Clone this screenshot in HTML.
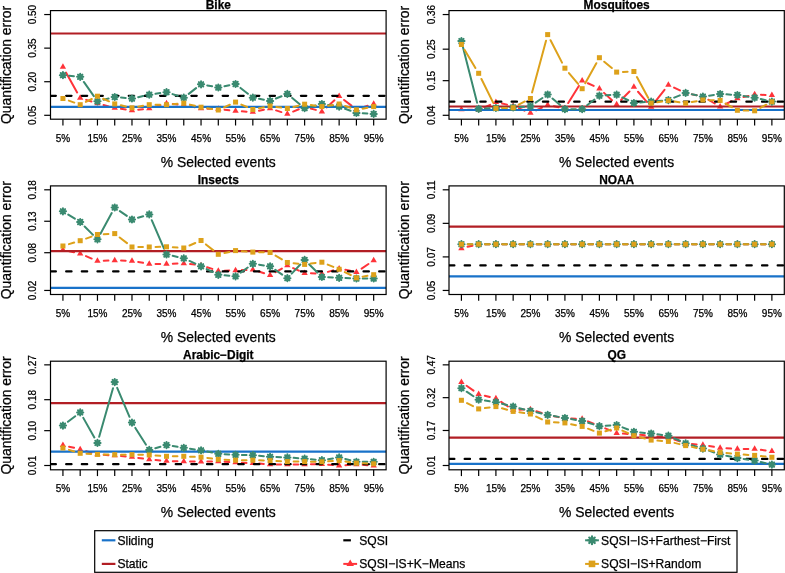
<!DOCTYPE html>
<html><head><meta charset="utf-8"><style>
html,body{margin:0;padding:0;background:#fff;}
body{width:785px;height:573px;overflow:hidden;}
svg{display:block;will-change:transform;}
text{font-family:"Liberation Sans",sans-serif;fill:#000;stroke:#000;stroke-width:0.25px;}
.t{font-size:10px;}
.m{font-size:11.9px;font-weight:bold;}
.l{font-size:13.9px;}
.g{font-size:12.1px;}
</style></head><body>
<svg width="785" height="573" viewBox="0 0 785 573">
<rect width="785" height="573" fill="#fff"/>
<clipPath id="c00"><rect x="50.5" y="10.6" width="335.6" height="108.6"/></clipPath>
<g clip-path="url(#c00)">
<path d="M66 72.5L77.12 92.4M86.19 99.84L91.46 101.56M103.55 105.09L108.62 106.41M120.96 108.83L125.74 109.47M138.25 109.65L142.98 109.15M155.3 106.75L160.46 105.25M172.79 104.05L177.5 104.45M189.95 106.25L194.86 107.25M207.33 108.68L212 108.82M224.56 109.73L229.31 110.27M241.85 111.36L246.54 111.64M259 110.75L263.92 109.75M276.09 110.41L281.35 112.09M293.17 111.57L298.8 109.23M310.69 108.49L315.81 109.91M326.57 107.39L334.46 100.31M344.12 99.96L351.43 105.64M362.39 107.52L367.69 105.78" stroke="#FF3339" stroke-width="2.0" fill="none" stroke-linecap="round"/>
<path d="M62.93 63.35L66.09 68.83L59.76 68.83Z" fill="#FF3339"/>
<path d="M80.19 94.25L83.36 99.73L77.03 99.73Z" fill="#FF3339"/>
<path d="M97.46 99.85L100.62 105.33L94.29 105.33Z" fill="#FF3339"/>
<path d="M114.72 104.35L117.88 109.83L111.55 109.83Z" fill="#FF3339"/>
<path d="M131.98 106.65L135.15 112.13L128.82 112.13Z" fill="#FF3339"/>
<path d="M149.25 104.85L152.41 110.33L146.08 110.33Z" fill="#FF3339"/>
<path d="M166.51 99.85L169.67 105.33L163.34 105.33Z" fill="#FF3339"/>
<path d="M183.77 101.35L186.94 106.83L180.61 106.83Z" fill="#FF3339"/>
<path d="M201.04 104.85L204.2 110.33L197.87 110.33Z" fill="#FF3339"/>
<path d="M218.3 105.35L221.46 110.83L215.14 110.83Z" fill="#FF3339"/>
<path d="M235.56 107.35L238.73 112.83L232.4 112.83Z" fill="#FF3339"/>
<path d="M252.83 108.35L255.99 113.83L249.66 113.83Z" fill="#FF3339"/>
<path d="M270.09 104.85L273.26 110.33L266.93 110.33Z" fill="#FF3339"/>
<path d="M287.35 110.35L290.52 115.83L284.19 115.83Z" fill="#FF3339"/>
<path d="M304.62 103.15L307.78 108.63L301.45 108.63Z" fill="#FF3339"/>
<path d="M321.88 107.95L325.05 113.43L318.72 113.43Z" fill="#FF3339"/>
<path d="M339.14 92.45L342.31 97.93L335.98 97.93Z" fill="#FF3339"/>
<path d="M356.41 105.85L359.57 111.33L353.24 111.33Z" fill="#FF3339"/>
<path d="M373.67 100.15L376.84 105.63L370.51 105.63Z" fill="#FF3339"/>
<path d="M50.5 106.9H386.1" stroke="#1872C9" stroke-width="2.2"/>
<path d="M50.5 33.5H386.1" stroke="#B21E24" stroke-width="2.2"/>
<path d="M50.5 95.8H386.1" stroke="#000" stroke-width="2.2" stroke-dasharray="5.4 10.25" stroke-linecap="round"/>
<path d="M69.2 75.78L73.92 76.22M83.82 81.95L93.83 96.15M103.57 99.78L108.61 98.52M121 97.55L125.71 97.95M138.14 97.15L143.09 96.05M155.48 93.8L160.27 93.1M172.51 94.11L177.77 95.79M188.75 93.84L196.06 88.16M207.23 85.45L212.11 86.35M224.47 86.25L229.39 85.25M240.5 87.92L247.89 93.78M259.02 98.85L263.9 99.75M275.93 98.53L281.52 96.27M292.21 97.92L299.77 104.18M310.74 106.71L315.76 105.49M328.11 104.94L332.91 105.66M345.05 108.79L350.5 110.81M362.7 113.33L367.38 113.57" stroke="#3A8A70" stroke-width="2.0" fill="none" stroke-linecap="round"/>
<path d="M59.82 75.2H66.04M62.93 72.09V78.31M60.73 73L65.13 77.4M60.73 77.4L65.13 73" stroke="#3A8A70" stroke-width="2.0" fill="none" stroke-linecap="round"/>
<path d="M77.08 76.8H83.3M80.19 73.69V79.91M77.99 74.6L82.39 79M77.99 79L82.39 74.6" stroke="#3A8A70" stroke-width="2.0" fill="none" stroke-linecap="round"/>
<path d="M94.35 101.3H100.57M97.46 98.19V104.41M95.26 99.1L99.66 103.5M95.26 103.5L99.66 99.1" stroke="#3A8A70" stroke-width="2.0" fill="none" stroke-linecap="round"/>
<path d="M111.61 97H117.83M114.72 93.89V100.11M112.52 94.8L116.92 99.2M112.52 99.2L116.92 94.8" stroke="#3A8A70" stroke-width="2.0" fill="none" stroke-linecap="round"/>
<path d="M128.87 98.5H135.09M131.98 95.39V101.61M129.78 96.3L134.18 100.7M129.78 100.7L134.18 96.3" stroke="#3A8A70" stroke-width="2.0" fill="none" stroke-linecap="round"/>
<path d="M146.14 94.7H152.36M149.25 91.59V97.81M147.05 92.5L151.45 96.9M147.05 96.9L151.45 92.5" stroke="#3A8A70" stroke-width="2.0" fill="none" stroke-linecap="round"/>
<path d="M163.4 92.2H169.62M166.51 89.09V95.31M164.31 90L168.71 94.4M164.31 94.4L168.71 90" stroke="#3A8A70" stroke-width="2.0" fill="none" stroke-linecap="round"/>
<path d="M180.66 97.7H186.88M183.77 94.59V100.81M181.57 95.5L185.97 99.9M181.57 99.9L185.97 95.5" stroke="#3A8A70" stroke-width="2.0" fill="none" stroke-linecap="round"/>
<path d="M197.93 84.3H204.15M201.04 81.19V87.41M198.84 82.1L203.24 86.5M198.84 86.5L203.24 82.1" stroke="#3A8A70" stroke-width="2.0" fill="none" stroke-linecap="round"/>
<path d="M215.19 87.5H221.41M218.3 84.39V90.61M216.1 85.3L220.5 89.7M216.1 89.7L220.5 85.3" stroke="#3A8A70" stroke-width="2.0" fill="none" stroke-linecap="round"/>
<path d="M232.45 84H238.67M235.56 80.89V87.11M233.36 81.8L237.76 86.2M233.36 86.2L237.76 81.8" stroke="#3A8A70" stroke-width="2.0" fill="none" stroke-linecap="round"/>
<path d="M249.72 97.7H255.94M252.83 94.59V100.81M250.63 95.5L255.03 99.9M250.63 99.9L255.03 95.5" stroke="#3A8A70" stroke-width="2.0" fill="none" stroke-linecap="round"/>
<path d="M266.98 100.9H273.2M270.09 97.79V104.01M267.89 98.7L272.29 103.1M267.89 103.1L272.29 98.7" stroke="#3A8A70" stroke-width="2.0" fill="none" stroke-linecap="round"/>
<path d="M284.24 93.9H290.46M287.35 90.79V97.01M285.15 91.7L289.55 96.1M285.15 96.1L289.55 91.7" stroke="#3A8A70" stroke-width="2.0" fill="none" stroke-linecap="round"/>
<path d="M301.51 108.2H307.73M304.62 105.09V111.31M302.42 106L306.82 110.4M302.42 110.4L306.82 106" stroke="#3A8A70" stroke-width="2.0" fill="none" stroke-linecap="round"/>
<path d="M318.77 104H324.99M321.88 100.89V107.11M319.68 101.8L324.08 106.2M319.68 106.2L324.08 101.8" stroke="#3A8A70" stroke-width="2.0" fill="none" stroke-linecap="round"/>
<path d="M336.03 106.6H342.25M339.14 103.49V109.71M336.94 104.4L341.34 108.8M336.94 108.8L341.34 104.4" stroke="#3A8A70" stroke-width="2.0" fill="none" stroke-linecap="round"/>
<path d="M353.3 113H359.52M356.41 109.89V116.11M354.21 110.8L358.61 115.2M354.21 115.2L358.61 110.8" stroke="#3A8A70" stroke-width="2.0" fill="none" stroke-linecap="round"/>
<path d="M370.56 113.9H376.78M373.67 110.79V117.01M371.47 111.7L375.87 116.1M371.47 116.1L375.87 111.7" stroke="#3A8A70" stroke-width="2.0" fill="none" stroke-linecap="round"/>
<path d="M68.86 100.63L74.26 102.57M85.85 101.92L91.8 98.98M103.21 98.77L108.97 101.33M120.86 105.29L125.84 106.41M138.18 106.69L143.05 105.81M155.55 104.7L160.21 104.7M172.79 104.15L177.5 103.75M189.91 104.62L194.9 105.78M207.26 108.21L212.08 108.99M224.03 107.38L229.83 104.72M241.35 104.58L247.04 107.02M259 108.25L263.92 107.25M276.33 106.9L281.12 107.6M293.47 106.98L298.5 105.72M310.86 105.07L315.64 105.73M328.11 105.66L332.91 104.94M345.12 106.01L350.44 107.79M362.6 108.65L367.48 107.75" stroke="#DDA11A" stroke-width="2.0" fill="none" stroke-linecap="round"/>
<rect x="60.42" y="95.99" width="5.02" height="5.02" fill="#DDA11A"/>
<rect x="77.69" y="102.19" width="5.02" height="5.02" fill="#DDA11A"/>
<rect x="94.95" y="93.69" width="5.02" height="5.02" fill="#DDA11A"/>
<rect x="112.21" y="101.39" width="5.02" height="5.02" fill="#DDA11A"/>
<rect x="129.48" y="105.29" width="5.02" height="5.02" fill="#DDA11A"/>
<rect x="146.74" y="102.19" width="5.02" height="5.02" fill="#DDA11A"/>
<rect x="164" y="102.19" width="5.02" height="5.02" fill="#DDA11A"/>
<rect x="181.27" y="100.69" width="5.02" height="5.02" fill="#DDA11A"/>
<rect x="198.53" y="104.69" width="5.02" height="5.02" fill="#DDA11A"/>
<rect x="215.79" y="107.49" width="5.02" height="5.02" fill="#DDA11A"/>
<rect x="233.06" y="99.59" width="5.02" height="5.02" fill="#DDA11A"/>
<rect x="250.32" y="106.99" width="5.02" height="5.02" fill="#DDA11A"/>
<rect x="267.58" y="103.49" width="5.02" height="5.02" fill="#DDA11A"/>
<rect x="284.85" y="105.99" width="5.02" height="5.02" fill="#DDA11A"/>
<rect x="302.11" y="101.69" width="5.02" height="5.02" fill="#DDA11A"/>
<rect x="319.37" y="104.09" width="5.02" height="5.02" fill="#DDA11A"/>
<rect x="336.64" y="101.49" width="5.02" height="5.02" fill="#DDA11A"/>
<rect x="353.9" y="107.29" width="5.02" height="5.02" fill="#DDA11A"/>
<rect x="371.16" y="104.09" width="5.02" height="5.02" fill="#DDA11A"/>
</g>
<rect x="50.5" y="10.6" width="335.6" height="108.6" fill="none" stroke="#000" stroke-width="1.2"/>
<path d="M44.2 115.3H50.5" stroke="#000" stroke-width="1.2"/>
<text transform="translate(36 115.3) rotate(-90)" text-anchor="middle" class="t">0.05</text>
<path d="M44.2 81.72H50.5" stroke="#000" stroke-width="1.2"/>
<text transform="translate(36 81.72) rotate(-90)" text-anchor="middle" class="t">0.20</text>
<path d="M44.2 48.13H50.5" stroke="#000" stroke-width="1.2"/>
<text transform="translate(36 48.13) rotate(-90)" text-anchor="middle" class="t">0.35</text>
<path d="M44.2 14.55H50.5" stroke="#000" stroke-width="1.2"/>
<text transform="translate(36 14.55) rotate(-90)" text-anchor="middle" class="t">0.50</text>
<path d="M62.93 119.2V125.5" stroke="#000" stroke-width="1.2"/>
<text x="62.93" y="141.8" text-anchor="middle" class="t">5%</text>
<path d="M80.19 119.2V125.5" stroke="#000" stroke-width="1.2"/>
<path d="M97.46 119.2V125.5" stroke="#000" stroke-width="1.2"/>
<text x="97.46" y="141.8" text-anchor="middle" class="t">15%</text>
<path d="M114.72 119.2V125.5" stroke="#000" stroke-width="1.2"/>
<path d="M131.98 119.2V125.5" stroke="#000" stroke-width="1.2"/>
<text x="131.98" y="141.8" text-anchor="middle" class="t">25%</text>
<path d="M149.25 119.2V125.5" stroke="#000" stroke-width="1.2"/>
<path d="M166.51 119.2V125.5" stroke="#000" stroke-width="1.2"/>
<text x="166.51" y="141.8" text-anchor="middle" class="t">35%</text>
<path d="M183.77 119.2V125.5" stroke="#000" stroke-width="1.2"/>
<path d="M201.04 119.2V125.5" stroke="#000" stroke-width="1.2"/>
<text x="201.04" y="141.8" text-anchor="middle" class="t">45%</text>
<path d="M218.3 119.2V125.5" stroke="#000" stroke-width="1.2"/>
<path d="M235.56 119.2V125.5" stroke="#000" stroke-width="1.2"/>
<text x="235.56" y="141.8" text-anchor="middle" class="t">55%</text>
<path d="M252.83 119.2V125.5" stroke="#000" stroke-width="1.2"/>
<path d="M270.09 119.2V125.5" stroke="#000" stroke-width="1.2"/>
<text x="270.09" y="141.8" text-anchor="middle" class="t">65%</text>
<path d="M287.35 119.2V125.5" stroke="#000" stroke-width="1.2"/>
<path d="M304.62 119.2V125.5" stroke="#000" stroke-width="1.2"/>
<text x="304.62" y="141.8" text-anchor="middle" class="t">75%</text>
<path d="M321.88 119.2V125.5" stroke="#000" stroke-width="1.2"/>
<path d="M339.14 119.2V125.5" stroke="#000" stroke-width="1.2"/>
<text x="339.14" y="141.8" text-anchor="middle" class="t">85%</text>
<path d="M356.41 119.2V125.5" stroke="#000" stroke-width="1.2"/>
<path d="M373.67 119.2V125.5" stroke="#000" stroke-width="1.2"/>
<text x="373.67" y="141.8" text-anchor="middle" class="t">95%</text>
<text x="218.3" y="8.5" text-anchor="middle" class="m">Bike</text>
<text x="218.3" y="166.8" text-anchor="middle" class="l">% Selected events</text>
<text transform="translate(10.7 64.9) rotate(-90)" text-anchor="middle" class="l">Quantification error</text>
<clipPath id="c01"><rect x="449" y="10.6" width="335.3" height="108.6"/></clipPath>
<g clip-path="url(#c01)">
<path d="M467.72 109.68L472.37 109.82M484.41 107.4L490.17 104.8M502.07 103.56L507.01 104.64M519 108.37L524.57 110.63M536.13 110.35L541.94 107.65M553.84 106.22L558.73 107.18M568.23 103.05L578.83 85.95M587.87 83.25L593.69 85.95M604.03 92.87L612.02 100.23M621.07 100.01L629.48 91.49M638.04 91.75L647.01 102.05M655.04 101.85L664.5 89.85M674.07 87.63L679.96 90.47M691.83 94.38L696.7 95.32M708.31 99.71L714.71 103.49M725.83 103.99L731.7 101.21M743.52 97.08L748.5 95.92M760.93 94.76L765.59 94.94" stroke="#FF3339" stroke-width="2.0" fill="none" stroke-linecap="round"/>
<path d="M461.42 105.85L464.58 111.33L458.25 111.33Z" fill="#FF3339"/>
<path d="M478.67 106.35L481.83 111.83L475.5 111.83Z" fill="#FF3339"/>
<path d="M495.91 98.55L499.08 104.03L492.75 104.03Z" fill="#FF3339"/>
<path d="M513.16 102.35L516.33 107.83L510 107.83Z" fill="#FF3339"/>
<path d="M530.41 109.35L533.58 114.83L527.25 114.83Z" fill="#FF3339"/>
<path d="M547.66 101.35L550.82 106.83L544.49 106.83Z" fill="#FF3339"/>
<path d="M564.91 104.75L568.07 110.23L561.74 110.23Z" fill="#FF3339"/>
<path d="M582.15 76.95L585.32 82.43L578.99 82.43Z" fill="#FF3339"/>
<path d="M599.4 84.95L602.57 90.43L596.24 90.43Z" fill="#FF3339"/>
<path d="M616.65 100.85L619.81 106.33L613.49 106.33Z" fill="#FF3339"/>
<path d="M633.9 83.35L637.06 88.83L630.73 88.83Z" fill="#FF3339"/>
<path d="M651.15 103.15L654.31 108.63L647.98 108.63Z" fill="#FF3339"/>
<path d="M668.39 81.25L671.56 86.73L665.23 86.73Z" fill="#FF3339"/>
<path d="M685.64 89.55L688.81 95.03L682.48 95.03Z" fill="#FF3339"/>
<path d="M702.89 92.85L706.05 98.33L699.72 98.33Z" fill="#FF3339"/>
<path d="M720.14 103.05L723.3 108.53L716.97 108.53Z" fill="#FF3339"/>
<path d="M737.39 94.85L740.55 100.33L734.22 100.33Z" fill="#FF3339"/>
<path d="M754.63 90.85L757.8 96.33L751.47 96.33Z" fill="#FF3339"/>
<path d="M771.88 91.55L775.05 97.03L768.72 97.03Z" fill="#FF3339"/>
<path d="M449 110H784.3" stroke="#1872C9" stroke-width="2.2"/>
<path d="M449 106.5H784.3" stroke="#B21E24" stroke-width="2.2"/>
<path d="M449 101.7H784.3" stroke="#000" stroke-width="2.2" stroke-dasharray="5.4 10.25" stroke-linecap="round"/>
<path d="M462.97 47.2L477.11 102.7M484.96 108.51L489.62 108.29M502.21 107.82L506.86 107.68M519.44 107.03L524.13 106.67M535.62 102.66L542.44 98.04M552.45 98.59L560.11 105.11M571.21 109.2L575.85 109.2M587.12 105.32L594.44 99.58M605.69 95.34L610.36 95.06M622.33 97.43L628.22 100.27M640.18 102.49L644.87 102.11M657.42 101.05L662.12 100.65M674.21 97.67L679.83 95.33M691.8 94.22L696.73 95.28M709.12 95.66L713.91 94.94M726.43 94.36L731.1 94.64M743.61 95.97L748.41 96.73M760.78 99.09L765.74 100.21" stroke="#3A8A70" stroke-width="2.0" fill="none" stroke-linecap="round"/>
<path d="M458.31 41.1H464.53M461.42 37.99V44.21M459.22 38.9L463.62 43.3M459.22 43.3L463.62 38.9" stroke="#3A8A70" stroke-width="2.0" fill="none" stroke-linecap="round"/>
<path d="M475.56 108.8H481.78M478.67 105.69V111.91M476.47 106.6L480.87 111M476.47 111L480.87 106.6" stroke="#3A8A70" stroke-width="2.0" fill="none" stroke-linecap="round"/>
<path d="M492.8 108H499.03M495.91 104.89V111.11M493.71 105.8L498.11 110.2M493.71 110.2L498.11 105.8" stroke="#3A8A70" stroke-width="2.0" fill="none" stroke-linecap="round"/>
<path d="M510.05 107.5H516.27M513.16 104.39V110.61M510.96 105.3L515.36 109.7M510.96 109.7L515.36 105.3" stroke="#3A8A70" stroke-width="2.0" fill="none" stroke-linecap="round"/>
<path d="M527.3 106.2H533.52M530.41 103.09V109.31M528.21 104L532.61 108.4M528.21 108.4L532.61 104" stroke="#3A8A70" stroke-width="2.0" fill="none" stroke-linecap="round"/>
<path d="M544.55 94.5H550.77M547.66 91.39V97.61M545.46 92.3L549.86 96.7M545.46 96.7L549.86 92.3" stroke="#3A8A70" stroke-width="2.0" fill="none" stroke-linecap="round"/>
<path d="M561.79 109.2H568.02M564.91 106.09V112.31M562.71 107L567.11 111.4M562.71 111.4L567.11 107" stroke="#3A8A70" stroke-width="2.0" fill="none" stroke-linecap="round"/>
<path d="M579.04 109.2H585.27M582.15 106.09V112.31M579.95 107L584.35 111.4M579.95 111.4L584.35 107" stroke="#3A8A70" stroke-width="2.0" fill="none" stroke-linecap="round"/>
<path d="M596.29 95.7H602.51M599.4 92.59V98.81M597.2 93.5L601.6 97.9M597.2 97.9L601.6 93.5" stroke="#3A8A70" stroke-width="2.0" fill="none" stroke-linecap="round"/>
<path d="M613.54 94.7H619.76M616.65 91.59V97.81M614.45 92.5L618.85 96.9M614.45 96.9L618.85 92.5" stroke="#3A8A70" stroke-width="2.0" fill="none" stroke-linecap="round"/>
<path d="M630.79 103H637.01M633.9 99.89V106.11M631.7 100.8L636.1 105.2M631.7 105.2L636.1 100.8" stroke="#3A8A70" stroke-width="2.0" fill="none" stroke-linecap="round"/>
<path d="M648.03 101.6H654.26M651.15 98.49V104.71M648.95 99.4L653.35 103.8M648.95 103.8L653.35 99.4" stroke="#3A8A70" stroke-width="2.0" fill="none" stroke-linecap="round"/>
<path d="M665.28 100.1H671.51M668.39 96.99V103.21M666.19 97.9L670.59 102.3M666.19 102.3L670.59 97.9" stroke="#3A8A70" stroke-width="2.0" fill="none" stroke-linecap="round"/>
<path d="M682.53 92.9H688.75M685.64 89.79V96.01M683.44 90.7L687.84 95.1M683.44 95.1L687.84 90.7" stroke="#3A8A70" stroke-width="2.0" fill="none" stroke-linecap="round"/>
<path d="M699.78 96.6H706M702.89 93.49V99.71M700.69 94.4L705.09 98.8M700.69 98.8L705.09 94.4" stroke="#3A8A70" stroke-width="2.0" fill="none" stroke-linecap="round"/>
<path d="M717.03 94H723.25M720.14 90.89V97.11M717.94 91.8L722.34 96.2M717.94 96.2L722.34 91.8" stroke="#3A8A70" stroke-width="2.0" fill="none" stroke-linecap="round"/>
<path d="M734.27 95H740.5M737.39 91.89V98.11M735.19 92.8L739.59 97.2M735.19 97.2L739.59 92.8" stroke="#3A8A70" stroke-width="2.0" fill="none" stroke-linecap="round"/>
<path d="M751.52 97.7H757.74M754.63 94.59V100.81M752.43 95.5L756.83 99.9M752.43 99.9L756.83 95.5" stroke="#3A8A70" stroke-width="2.0" fill="none" stroke-linecap="round"/>
<path d="M768.77 101.6H774.99M771.88 98.49V104.71M769.68 99.4L774.08 103.8M769.68 103.8L774.08 99.4" stroke="#3A8A70" stroke-width="2.0" fill="none" stroke-linecap="round"/>
<path d="M464.66 49.9L475.43 67.9M481.45 78.95L493.13 102.65M502.21 108.08L506.87 107.92M518.72 104.74L524.85 101.46M532.05 92.42L546.02 40.68M550.54 40.2L562.03 62.6M568.96 73.02L578.1 83.88M585.22 83.19L596.34 63.21M604.24 61.74L611.81 68.06M622.95 71.88L627.6 71.72M636.91 77.03L648.13 97.67M657.38 102.26L662.16 101.54M674.62 101.54L679.41 102.26M691.84 102.05L696.7 101.15M709.19 100.15L713.84 100.25M725.6 103.54L731.92 107.16M743.68 110.48L748.34 110.62M760.22 107.89L766.3 104.71" stroke="#DDA11A" stroke-width="2.0" fill="none" stroke-linecap="round"/>
<rect x="458.91" y="41.99" width="5.02" height="5.02" fill="#DDA11A"/>
<rect x="476.16" y="70.79" width="5.02" height="5.02" fill="#DDA11A"/>
<rect x="493.41" y="105.79" width="5.02" height="5.02" fill="#DDA11A"/>
<rect x="510.65" y="105.19" width="5.02" height="5.02" fill="#DDA11A"/>
<rect x="527.9" y="95.99" width="5.02" height="5.02" fill="#DDA11A"/>
<rect x="545.15" y="32.09" width="5.02" height="5.02" fill="#DDA11A"/>
<rect x="562.4" y="65.69" width="5.02" height="5.02" fill="#DDA11A"/>
<rect x="579.65" y="86.19" width="5.02" height="5.02" fill="#DDA11A"/>
<rect x="596.89" y="55.19" width="5.02" height="5.02" fill="#DDA11A"/>
<rect x="614.14" y="69.59" width="5.02" height="5.02" fill="#DDA11A"/>
<rect x="631.39" y="68.99" width="5.02" height="5.02" fill="#DDA11A"/>
<rect x="648.64" y="100.69" width="5.02" height="5.02" fill="#DDA11A"/>
<rect x="665.89" y="98.09" width="5.02" height="5.02" fill="#DDA11A"/>
<rect x="683.13" y="100.69" width="5.02" height="5.02" fill="#DDA11A"/>
<rect x="700.38" y="97.49" width="5.02" height="5.02" fill="#DDA11A"/>
<rect x="717.63" y="97.89" width="5.02" height="5.02" fill="#DDA11A"/>
<rect x="734.88" y="107.79" width="5.02" height="5.02" fill="#DDA11A"/>
<rect x="752.13" y="108.29" width="5.02" height="5.02" fill="#DDA11A"/>
<rect x="769.37" y="99.29" width="5.02" height="5.02" fill="#DDA11A"/>
</g>
<rect x="449" y="10.6" width="335.3" height="108.6" fill="none" stroke="#000" stroke-width="1.2"/>
<path d="M442.7 115.3H449" stroke="#000" stroke-width="1.2"/>
<text transform="translate(434.5 115.3) rotate(-90)" text-anchor="middle" class="t">0.04</text>
<path d="M442.7 80.67H449" stroke="#000" stroke-width="1.2"/>
<text transform="translate(434.5 80.67) rotate(-90)" text-anchor="middle" class="t">0.15</text>
<path d="M442.7 49.18H449" stroke="#000" stroke-width="1.2"/>
<text transform="translate(434.5 49.18) rotate(-90)" text-anchor="middle" class="t">0.25</text>
<path d="M442.7 14.55H449" stroke="#000" stroke-width="1.2"/>
<text transform="translate(434.5 14.55) rotate(-90)" text-anchor="middle" class="t">0.36</text>
<path d="M461.42 119.2V125.5" stroke="#000" stroke-width="1.2"/>
<text x="461.42" y="141.8" text-anchor="middle" class="t">5%</text>
<path d="M478.67 119.2V125.5" stroke="#000" stroke-width="1.2"/>
<path d="M495.91 119.2V125.5" stroke="#000" stroke-width="1.2"/>
<text x="495.91" y="141.8" text-anchor="middle" class="t">15%</text>
<path d="M513.16 119.2V125.5" stroke="#000" stroke-width="1.2"/>
<path d="M530.41 119.2V125.5" stroke="#000" stroke-width="1.2"/>
<text x="530.41" y="141.8" text-anchor="middle" class="t">25%</text>
<path d="M547.66 119.2V125.5" stroke="#000" stroke-width="1.2"/>
<path d="M564.91 119.2V125.5" stroke="#000" stroke-width="1.2"/>
<text x="564.91" y="141.8" text-anchor="middle" class="t">35%</text>
<path d="M582.15 119.2V125.5" stroke="#000" stroke-width="1.2"/>
<path d="M599.4 119.2V125.5" stroke="#000" stroke-width="1.2"/>
<text x="599.4" y="141.8" text-anchor="middle" class="t">45%</text>
<path d="M616.65 119.2V125.5" stroke="#000" stroke-width="1.2"/>
<path d="M633.9 119.2V125.5" stroke="#000" stroke-width="1.2"/>
<text x="633.9" y="141.8" text-anchor="middle" class="t">55%</text>
<path d="M651.15 119.2V125.5" stroke="#000" stroke-width="1.2"/>
<path d="M668.39 119.2V125.5" stroke="#000" stroke-width="1.2"/>
<text x="668.39" y="141.8" text-anchor="middle" class="t">65%</text>
<path d="M685.64 119.2V125.5" stroke="#000" stroke-width="1.2"/>
<path d="M702.89 119.2V125.5" stroke="#000" stroke-width="1.2"/>
<text x="702.89" y="141.8" text-anchor="middle" class="t">75%</text>
<path d="M720.14 119.2V125.5" stroke="#000" stroke-width="1.2"/>
<path d="M737.39 119.2V125.5" stroke="#000" stroke-width="1.2"/>
<text x="737.39" y="141.8" text-anchor="middle" class="t">85%</text>
<path d="M754.63 119.2V125.5" stroke="#000" stroke-width="1.2"/>
<path d="M771.88 119.2V125.5" stroke="#000" stroke-width="1.2"/>
<text x="771.88" y="141.8" text-anchor="middle" class="t">95%</text>
<text x="616.65" y="8.5" text-anchor="middle" class="m">Mosquitoes</text>
<text x="616.65" y="166.8" text-anchor="middle" class="l">% Selected events</text>
<text transform="translate(409.2 64.9) rotate(-90)" text-anchor="middle" class="l">Quantification error</text>
<clipPath id="c10"><rect x="50.5" y="185.9" width="335.6" height="108.6"/></clipPath>
<g clip-path="url(#c10)">
<path d="M69.08 251.25L74.04 252.35M86 256.15L91.65 258.55M103.75 260.78L108.42 260.62M121.02 260.55L125.68 260.65M138.18 261.91L143.05 262.79M155.55 263.94L160.21 263.96M172.8 263.74L177.48 263.56M190.03 264.03L194.78 264.57M207.04 267.21L212.3 268.89M224.6 270.65L229.27 270.55M241.86 270.11L246.53 269.89M258.82 271.54L264.1 273.26M275.58 272.11L281.86 268.59M293.11 268.07L298.86 270.63M310.92 273.35L315.58 273.45M327.93 271.85L333.09 270.35M345.32 269.85L350.23 270.85M361.64 268.59L368.44 264.01" stroke="#FF3339" stroke-width="2.0" fill="none" stroke-linecap="round"/>
<path d="M62.93 246.25L66.09 251.73L59.76 251.73Z" fill="#FF3339"/>
<path d="M80.19 250.05L83.36 255.53L77.03 255.53Z" fill="#FF3339"/>
<path d="M97.46 257.35L100.62 262.83L94.29 262.83Z" fill="#FF3339"/>
<path d="M114.72 256.75L117.88 262.23L111.55 262.23Z" fill="#FF3339"/>
<path d="M131.98 257.15L135.15 262.63L128.82 262.63Z" fill="#FF3339"/>
<path d="M149.25 260.25L152.41 265.73L146.08 265.73Z" fill="#FF3339"/>
<path d="M166.51 260.35L169.67 265.83L163.34 265.83Z" fill="#FF3339"/>
<path d="M183.77 259.65L186.94 265.13L180.61 265.13Z" fill="#FF3339"/>
<path d="M201.04 261.65L204.2 267.13L197.87 267.13Z" fill="#FF3339"/>
<path d="M218.3 267.15L221.46 272.63L215.14 272.63Z" fill="#FF3339"/>
<path d="M235.56 266.75L238.73 272.23L232.4 272.23Z" fill="#FF3339"/>
<path d="M252.83 265.95L255.99 271.43L249.66 271.43Z" fill="#FF3339"/>
<path d="M270.09 271.55L273.26 277.03L266.93 277.03Z" fill="#FF3339"/>
<path d="M287.35 261.85L290.52 267.33L284.19 267.33Z" fill="#FF3339"/>
<path d="M304.62 269.55L307.78 275.03L301.45 275.03Z" fill="#FF3339"/>
<path d="M321.88 269.95L325.05 275.43L318.72 275.43Z" fill="#FF3339"/>
<path d="M339.14 264.95L342.31 270.43L335.98 270.43Z" fill="#FF3339"/>
<path d="M356.41 268.45L359.57 273.93L353.24 273.93Z" fill="#FF3339"/>
<path d="M373.67 256.85L376.84 262.33L370.51 262.33Z" fill="#FF3339"/>
<path d="M50.5 287.8H386.1" stroke="#1872C9" stroke-width="2.2"/>
<path d="M50.5 251.2H386.1" stroke="#B21E24" stroke-width="2.2"/>
<path d="M50.5 271.4H386.1" stroke="#000" stroke-width="2.2" stroke-dasharray="5.4 10.25" stroke-linecap="round"/>
<path d="M68.28 214.62L74.84 218.68M84.64 226.46L93.01 234.84M100.46 233.76L111.71 213.04M119.89 211.1L126.81 215.9M138.02 217.72L143.2 216.18M151.74 220.19L164.02 248.71M172.66 255.85L177.62 256.95M189.49 260.95L195.32 263.65M206.69 269.08L212.65 272.02M224.58 275.35L229.29 275.75M240.67 272.61L247.72 267.49M259.06 264.7L263.86 265.4M275.28 269.88L282.17 274.62M291.68 273.62L300.29 264.48M309.09 264.33L317.4 272.57M328.17 277.29L332.85 277.51M345.44 278.06L350.11 278.24M362.71 278.5L367.37 278.5" stroke="#3A8A70" stroke-width="2.0" fill="none" stroke-linecap="round"/>
<path d="M59.82 211.3H66.04M62.93 208.19V214.41M60.73 209.1L65.13 213.5M60.73 213.5L65.13 209.1" stroke="#3A8A70" stroke-width="2.0" fill="none" stroke-linecap="round"/>
<path d="M77.08 222H83.3M80.19 218.89V225.11M77.99 219.8L82.39 224.2M77.99 224.2L82.39 219.8" stroke="#3A8A70" stroke-width="2.0" fill="none" stroke-linecap="round"/>
<path d="M94.35 239.3H100.57M97.46 236.19V242.41M95.26 237.1L99.66 241.5M95.26 241.5L99.66 237.1" stroke="#3A8A70" stroke-width="2.0" fill="none" stroke-linecap="round"/>
<path d="M111.61 207.5H117.83M114.72 204.39V210.61M112.52 205.3L116.92 209.7M112.52 209.7L116.92 205.3" stroke="#3A8A70" stroke-width="2.0" fill="none" stroke-linecap="round"/>
<path d="M128.87 219.5H135.09M131.98 216.39V222.61M129.78 217.3L134.18 221.7M129.78 221.7L134.18 217.3" stroke="#3A8A70" stroke-width="2.0" fill="none" stroke-linecap="round"/>
<path d="M146.14 214.4H152.36M149.25 211.29V217.51M147.05 212.2L151.45 216.6M147.05 216.6L151.45 212.2" stroke="#3A8A70" stroke-width="2.0" fill="none" stroke-linecap="round"/>
<path d="M163.4 254.5H169.62M166.51 251.39V257.61M164.31 252.3L168.71 256.7M164.31 256.7L168.71 252.3" stroke="#3A8A70" stroke-width="2.0" fill="none" stroke-linecap="round"/>
<path d="M180.66 258.3H186.88M183.77 255.19V261.41M181.57 256.1L185.97 260.5M181.57 260.5L185.97 256.1" stroke="#3A8A70" stroke-width="2.0" fill="none" stroke-linecap="round"/>
<path d="M197.93 266.3H204.15M201.04 263.19V269.41M198.84 264.1L203.24 268.5M198.84 268.5L203.24 264.1" stroke="#3A8A70" stroke-width="2.0" fill="none" stroke-linecap="round"/>
<path d="M215.19 274.8H221.41M218.3 271.69V277.91M216.1 272.6L220.5 277M216.1 277L220.5 272.6" stroke="#3A8A70" stroke-width="2.0" fill="none" stroke-linecap="round"/>
<path d="M232.45 276.3H238.67M235.56 273.19V279.41M233.36 274.1L237.76 278.5M233.36 278.5L237.76 274.1" stroke="#3A8A70" stroke-width="2.0" fill="none" stroke-linecap="round"/>
<path d="M249.72 263.8H255.94M252.83 260.69V266.91M250.63 261.6L255.03 266M250.63 266L255.03 261.6" stroke="#3A8A70" stroke-width="2.0" fill="none" stroke-linecap="round"/>
<path d="M266.98 266.3H273.2M270.09 263.19V269.41M267.89 264.1L272.29 268.5M267.89 268.5L272.29 264.1" stroke="#3A8A70" stroke-width="2.0" fill="none" stroke-linecap="round"/>
<path d="M284.24 278.2H290.46M287.35 275.09V281.31M285.15 276L289.55 280.4M285.15 280.4L289.55 276" stroke="#3A8A70" stroke-width="2.0" fill="none" stroke-linecap="round"/>
<path d="M301.51 259.9H307.73M304.62 256.79V263.01M302.42 257.7L306.82 262.1M302.42 262.1L306.82 257.7" stroke="#3A8A70" stroke-width="2.0" fill="none" stroke-linecap="round"/>
<path d="M318.77 277H324.99M321.88 273.89V280.11M319.68 274.8L324.08 279.2M319.68 279.2L324.08 274.8" stroke="#3A8A70" stroke-width="2.0" fill="none" stroke-linecap="round"/>
<path d="M336.03 277.8H342.25M339.14 274.69V280.91M336.94 275.6L341.34 280M336.94 280L341.34 275.6" stroke="#3A8A70" stroke-width="2.0" fill="none" stroke-linecap="round"/>
<path d="M353.3 278.5H359.52M356.41 275.39V281.61M354.21 276.3L358.61 280.7M354.21 280.7L358.61 276.3" stroke="#3A8A70" stroke-width="2.0" fill="none" stroke-linecap="round"/>
<path d="M370.56 278.5H376.78M373.67 275.39V281.61M371.47 276.3L375.87 280.7M371.47 280.7L375.87 276.3" stroke="#3A8A70" stroke-width="2.0" fill="none" stroke-linecap="round"/>
<path d="M68.95 244.15L74.17 242.55M86.12 238.57L91.53 236.63M103.75 234.17L108.43 233.93M119.7 237.46L127.01 243.14M138.28 247L142.95 247M155.55 246.93L160.21 246.87M172.79 247.24L177.49 247.56M189.55 245.49L195.26 243.01M205.96 244.43L213.38 250.37M224.46 252.98L229.4 251.92M241.84 251.15L246.55 251.55M259.13 252.25L263.79 252.35M275.54 255.66L281.9 259.34M293.62 263.19L298.35 263.71M310.87 263.6L315.63 263M327.71 264.6L333.32 266.9M344.8 272.08L350.75 275.02M362.61 276.69L367.47 275.81" stroke="#DDA11A" stroke-width="2.0" fill="none" stroke-linecap="round"/>
<rect x="60.42" y="243.49" width="5.02" height="5.02" fill="#DDA11A"/>
<rect x="77.69" y="238.19" width="5.02" height="5.02" fill="#DDA11A"/>
<rect x="94.95" y="231.99" width="5.02" height="5.02" fill="#DDA11A"/>
<rect x="112.21" y="231.09" width="5.02" height="5.02" fill="#DDA11A"/>
<rect x="129.48" y="244.49" width="5.02" height="5.02" fill="#DDA11A"/>
<rect x="146.74" y="244.49" width="5.02" height="5.02" fill="#DDA11A"/>
<rect x="164" y="244.29" width="5.02" height="5.02" fill="#DDA11A"/>
<rect x="181.27" y="245.49" width="5.02" height="5.02" fill="#DDA11A"/>
<rect x="198.53" y="237.99" width="5.02" height="5.02" fill="#DDA11A"/>
<rect x="215.79" y="251.79" width="5.02" height="5.02" fill="#DDA11A"/>
<rect x="233.06" y="248.09" width="5.02" height="5.02" fill="#DDA11A"/>
<rect x="250.32" y="249.59" width="5.02" height="5.02" fill="#DDA11A"/>
<rect x="267.58" y="249.99" width="5.02" height="5.02" fill="#DDA11A"/>
<rect x="284.85" y="259.99" width="5.02" height="5.02" fill="#DDA11A"/>
<rect x="302.11" y="261.89" width="5.02" height="5.02" fill="#DDA11A"/>
<rect x="319.37" y="259.69" width="5.02" height="5.02" fill="#DDA11A"/>
<rect x="336.64" y="266.79" width="5.02" height="5.02" fill="#DDA11A"/>
<rect x="353.9" y="275.29" width="5.02" height="5.02" fill="#DDA11A"/>
<rect x="371.16" y="272.19" width="5.02" height="5.02" fill="#DDA11A"/>
</g>
<rect x="50.5" y="185.9" width="335.6" height="108.6" fill="none" stroke="#000" stroke-width="1.2"/>
<path d="M44.2 290.45H50.5" stroke="#000" stroke-width="1.2"/>
<text transform="translate(36 290.45) rotate(-90)" text-anchor="middle" class="t">0.02</text>
<path d="M44.2 252.71H50.5" stroke="#000" stroke-width="1.2"/>
<text transform="translate(36 252.71) rotate(-90)" text-anchor="middle" class="t">0.08</text>
<path d="M44.2 221.25H50.5" stroke="#000" stroke-width="1.2"/>
<text transform="translate(36 221.25) rotate(-90)" text-anchor="middle" class="t">0.13</text>
<path d="M44.2 189.8H50.5" stroke="#000" stroke-width="1.2"/>
<text transform="translate(36 189.8) rotate(-90)" text-anchor="middle" class="t">0.18</text>
<path d="M62.93 294.5V300.8" stroke="#000" stroke-width="1.2"/>
<text x="62.93" y="317.1" text-anchor="middle" class="t">5%</text>
<path d="M80.19 294.5V300.8" stroke="#000" stroke-width="1.2"/>
<path d="M97.46 294.5V300.8" stroke="#000" stroke-width="1.2"/>
<text x="97.46" y="317.1" text-anchor="middle" class="t">15%</text>
<path d="M114.72 294.5V300.8" stroke="#000" stroke-width="1.2"/>
<path d="M131.98 294.5V300.8" stroke="#000" stroke-width="1.2"/>
<text x="131.98" y="317.1" text-anchor="middle" class="t">25%</text>
<path d="M149.25 294.5V300.8" stroke="#000" stroke-width="1.2"/>
<path d="M166.51 294.5V300.8" stroke="#000" stroke-width="1.2"/>
<text x="166.51" y="317.1" text-anchor="middle" class="t">35%</text>
<path d="M183.77 294.5V300.8" stroke="#000" stroke-width="1.2"/>
<path d="M201.04 294.5V300.8" stroke="#000" stroke-width="1.2"/>
<text x="201.04" y="317.1" text-anchor="middle" class="t">45%</text>
<path d="M218.3 294.5V300.8" stroke="#000" stroke-width="1.2"/>
<path d="M235.56 294.5V300.8" stroke="#000" stroke-width="1.2"/>
<text x="235.56" y="317.1" text-anchor="middle" class="t">55%</text>
<path d="M252.83 294.5V300.8" stroke="#000" stroke-width="1.2"/>
<path d="M270.09 294.5V300.8" stroke="#000" stroke-width="1.2"/>
<text x="270.09" y="317.1" text-anchor="middle" class="t">65%</text>
<path d="M287.35 294.5V300.8" stroke="#000" stroke-width="1.2"/>
<path d="M304.62 294.5V300.8" stroke="#000" stroke-width="1.2"/>
<text x="304.62" y="317.1" text-anchor="middle" class="t">75%</text>
<path d="M321.88 294.5V300.8" stroke="#000" stroke-width="1.2"/>
<path d="M339.14 294.5V300.8" stroke="#000" stroke-width="1.2"/>
<text x="339.14" y="317.1" text-anchor="middle" class="t">85%</text>
<path d="M356.41 294.5V300.8" stroke="#000" stroke-width="1.2"/>
<path d="M373.67 294.5V300.8" stroke="#000" stroke-width="1.2"/>
<text x="373.67" y="317.1" text-anchor="middle" class="t">95%</text>
<text x="218.3" y="183.8" text-anchor="middle" class="m">Insects</text>
<text x="218.3" y="342.1" text-anchor="middle" class="l">% Selected events</text>
<text transform="translate(10.7 240.2) rotate(-90)" text-anchor="middle" class="l">Quantification error</text>
<clipPath id="c11"><rect x="449" y="185.9" width="335.3" height="108.6"/></clipPath>
<g clip-path="url(#c11)">
<path d="M467.55 246.84L472.54 245.66M484.97 244.2L489.61 244.2M502.21 244.2L506.86 244.2M519.46 244.2L524.11 244.2M536.71 244.2L541.36 244.2M553.96 244.2L558.61 244.2M571.21 244.2L575.85 244.2M588.45 244.2L593.1 244.2M605.7 244.2L610.35 244.2M622.95 244.2L627.6 244.2M640.2 244.2L644.85 244.2M657.45 244.2L662.09 244.2M674.69 244.2L679.34 244.2M691.94 244.2L696.59 244.2M709.19 244.2L713.84 244.2M726.44 244.2L731.09 244.2M743.69 244.2L748.33 244.2M760.93 244.2L765.58 244.2" stroke="#FF3339" stroke-width="2.0" fill="none" stroke-linecap="round"/>
<path d="M461.42 244.65L464.58 250.13L458.25 250.13Z" fill="#FF3339"/>
<path d="M478.67 240.55L481.83 246.03L475.5 246.03Z" fill="#FF3339"/>
<path d="M495.91 240.55L499.08 246.03L492.75 246.03Z" fill="#FF3339"/>
<path d="M513.16 240.55L516.33 246.03L510 246.03Z" fill="#FF3339"/>
<path d="M530.41 240.55L533.58 246.03L527.25 246.03Z" fill="#FF3339"/>
<path d="M547.66 240.55L550.82 246.03L544.49 246.03Z" fill="#FF3339"/>
<path d="M564.91 240.55L568.07 246.03L561.74 246.03Z" fill="#FF3339"/>
<path d="M582.15 240.55L585.32 246.03L578.99 246.03Z" fill="#FF3339"/>
<path d="M599.4 240.55L602.57 246.03L596.24 246.03Z" fill="#FF3339"/>
<path d="M616.65 240.55L619.81 246.03L613.49 246.03Z" fill="#FF3339"/>
<path d="M633.9 240.55L637.06 246.03L630.73 246.03Z" fill="#FF3339"/>
<path d="M651.15 240.55L654.31 246.03L647.98 246.03Z" fill="#FF3339"/>
<path d="M668.39 240.55L671.56 246.03L665.23 246.03Z" fill="#FF3339"/>
<path d="M685.64 240.55L688.81 246.03L682.48 246.03Z" fill="#FF3339"/>
<path d="M702.89 240.55L706.05 246.03L699.72 246.03Z" fill="#FF3339"/>
<path d="M720.14 240.55L723.3 246.03L716.97 246.03Z" fill="#FF3339"/>
<path d="M737.39 240.55L740.55 246.03L734.22 246.03Z" fill="#FF3339"/>
<path d="M754.63 240.55L757.8 246.03L751.47 246.03Z" fill="#FF3339"/>
<path d="M771.88 240.55L775.05 246.03L768.72 246.03Z" fill="#FF3339"/>
<path d="M449 276.3H784.3" stroke="#1872C9" stroke-width="2.2"/>
<path d="M449 226.7H784.3" stroke="#B21E24" stroke-width="2.2"/>
<path d="M449 265.4H784.3" stroke="#000" stroke-width="2.2" stroke-dasharray="5.4 10.25" stroke-linecap="round"/>
<path d="M467.72 244.2L472.37 244.2M484.97 244.2L489.61 244.2M502.21 244.2L506.86 244.2M519.46 244.2L524.11 244.2M536.71 244.2L541.36 244.2M553.96 244.2L558.61 244.2M571.21 244.2L575.85 244.2M588.45 244.2L593.1 244.2M605.7 244.2L610.35 244.2M622.95 244.2L627.6 244.2M640.2 244.2L644.85 244.2M657.45 244.2L662.09 244.2M674.69 244.2L679.34 244.2M691.94 244.2L696.59 244.2M709.19 244.2L713.84 244.2M726.44 244.2L731.09 244.2M743.69 244.2L748.33 244.2M760.93 244.2L765.58 244.2" stroke="#3A8A70" stroke-width="2.0" fill="none" stroke-linecap="round"/>
<path d="M458.31 244.2H464.53M461.42 241.09V247.31M459.22 242L463.62 246.4M459.22 246.4L463.62 242" stroke="#3A8A70" stroke-width="2.0" fill="none" stroke-linecap="round"/>
<path d="M475.56 244.2H481.78M478.67 241.09V247.31M476.47 242L480.87 246.4M476.47 246.4L480.87 242" stroke="#3A8A70" stroke-width="2.0" fill="none" stroke-linecap="round"/>
<path d="M492.8 244.2H499.03M495.91 241.09V247.31M493.71 242L498.11 246.4M493.71 246.4L498.11 242" stroke="#3A8A70" stroke-width="2.0" fill="none" stroke-linecap="round"/>
<path d="M510.05 244.2H516.27M513.16 241.09V247.31M510.96 242L515.36 246.4M510.96 246.4L515.36 242" stroke="#3A8A70" stroke-width="2.0" fill="none" stroke-linecap="round"/>
<path d="M527.3 244.2H533.52M530.41 241.09V247.31M528.21 242L532.61 246.4M528.21 246.4L532.61 242" stroke="#3A8A70" stroke-width="2.0" fill="none" stroke-linecap="round"/>
<path d="M544.55 244.2H550.77M547.66 241.09V247.31M545.46 242L549.86 246.4M545.46 246.4L549.86 242" stroke="#3A8A70" stroke-width="2.0" fill="none" stroke-linecap="round"/>
<path d="M561.79 244.2H568.02M564.91 241.09V247.31M562.71 242L567.11 246.4M562.71 246.4L567.11 242" stroke="#3A8A70" stroke-width="2.0" fill="none" stroke-linecap="round"/>
<path d="M579.04 244.2H585.27M582.15 241.09V247.31M579.95 242L584.35 246.4M579.95 246.4L584.35 242" stroke="#3A8A70" stroke-width="2.0" fill="none" stroke-linecap="round"/>
<path d="M596.29 244.2H602.51M599.4 241.09V247.31M597.2 242L601.6 246.4M597.2 246.4L601.6 242" stroke="#3A8A70" stroke-width="2.0" fill="none" stroke-linecap="round"/>
<path d="M613.54 244.2H619.76M616.65 241.09V247.31M614.45 242L618.85 246.4M614.45 246.4L618.85 242" stroke="#3A8A70" stroke-width="2.0" fill="none" stroke-linecap="round"/>
<path d="M630.79 244.2H637.01M633.9 241.09V247.31M631.7 242L636.1 246.4M631.7 246.4L636.1 242" stroke="#3A8A70" stroke-width="2.0" fill="none" stroke-linecap="round"/>
<path d="M648.03 244.2H654.26M651.15 241.09V247.31M648.95 242L653.35 246.4M648.95 246.4L653.35 242" stroke="#3A8A70" stroke-width="2.0" fill="none" stroke-linecap="round"/>
<path d="M665.28 244.2H671.51M668.39 241.09V247.31M666.19 242L670.59 246.4M666.19 246.4L670.59 242" stroke="#3A8A70" stroke-width="2.0" fill="none" stroke-linecap="round"/>
<path d="M682.53 244.2H688.75M685.64 241.09V247.31M683.44 242L687.84 246.4M683.44 246.4L687.84 242" stroke="#3A8A70" stroke-width="2.0" fill="none" stroke-linecap="round"/>
<path d="M699.78 244.2H706M702.89 241.09V247.31M700.69 242L705.09 246.4M700.69 246.4L705.09 242" stroke="#3A8A70" stroke-width="2.0" fill="none" stroke-linecap="round"/>
<path d="M717.03 244.2H723.25M720.14 241.09V247.31M717.94 242L722.34 246.4M717.94 246.4L722.34 242" stroke="#3A8A70" stroke-width="2.0" fill="none" stroke-linecap="round"/>
<path d="M734.27 244.2H740.5M737.39 241.09V247.31M735.19 242L739.59 246.4M735.19 246.4L739.59 242" stroke="#3A8A70" stroke-width="2.0" fill="none" stroke-linecap="round"/>
<path d="M751.52 244.2H757.74M754.63 241.09V247.31M752.43 242L756.83 246.4M752.43 246.4L756.83 242" stroke="#3A8A70" stroke-width="2.0" fill="none" stroke-linecap="round"/>
<path d="M768.77 244.2H774.99M771.88 241.09V247.31M769.68 242L774.08 246.4M769.68 246.4L774.08 242" stroke="#3A8A70" stroke-width="2.0" fill="none" stroke-linecap="round"/>
<path d="M467.72 244.2L472.37 244.2M484.97 244.2L489.61 244.2M502.21 244.2L506.86 244.2M519.46 244.2L524.11 244.2M536.71 244.2L541.36 244.2M553.96 244.2L558.61 244.2M571.21 244.2L575.85 244.2M588.45 244.2L593.1 244.2M605.7 244.2L610.35 244.2M622.95 244.2L627.6 244.2M640.2 244.2L644.85 244.2M657.45 244.2L662.09 244.2M674.69 244.2L679.34 244.2M691.94 244.2L696.59 244.2M709.19 244.2L713.84 244.2M726.44 244.2L731.09 244.2M743.69 244.2L748.33 244.2M760.93 244.2L765.58 244.2" stroke="#DDA11A" stroke-width="2.0" fill="none" stroke-linecap="round"/>
<rect x="458.91" y="241.69" width="5.02" height="5.02" fill="#DDA11A"/>
<rect x="476.16" y="241.69" width="5.02" height="5.02" fill="#DDA11A"/>
<rect x="493.41" y="241.69" width="5.02" height="5.02" fill="#DDA11A"/>
<rect x="510.65" y="241.69" width="5.02" height="5.02" fill="#DDA11A"/>
<rect x="527.9" y="241.69" width="5.02" height="5.02" fill="#DDA11A"/>
<rect x="545.15" y="241.69" width="5.02" height="5.02" fill="#DDA11A"/>
<rect x="562.4" y="241.69" width="5.02" height="5.02" fill="#DDA11A"/>
<rect x="579.65" y="241.69" width="5.02" height="5.02" fill="#DDA11A"/>
<rect x="596.89" y="241.69" width="5.02" height="5.02" fill="#DDA11A"/>
<rect x="614.14" y="241.69" width="5.02" height="5.02" fill="#DDA11A"/>
<rect x="631.39" y="241.69" width="5.02" height="5.02" fill="#DDA11A"/>
<rect x="648.64" y="241.69" width="5.02" height="5.02" fill="#DDA11A"/>
<rect x="665.89" y="241.69" width="5.02" height="5.02" fill="#DDA11A"/>
<rect x="683.13" y="241.69" width="5.02" height="5.02" fill="#DDA11A"/>
<rect x="700.38" y="241.69" width="5.02" height="5.02" fill="#DDA11A"/>
<rect x="717.63" y="241.69" width="5.02" height="5.02" fill="#DDA11A"/>
<rect x="734.88" y="241.69" width="5.02" height="5.02" fill="#DDA11A"/>
<rect x="752.13" y="241.69" width="5.02" height="5.02" fill="#DDA11A"/>
<rect x="769.37" y="241.69" width="5.02" height="5.02" fill="#DDA11A"/>
</g>
<rect x="449" y="185.9" width="335.3" height="108.6" fill="none" stroke="#000" stroke-width="1.2"/>
<path d="M442.7 290.45H449" stroke="#000" stroke-width="1.2"/>
<text transform="translate(434.5 290.45) rotate(-90)" text-anchor="middle" class="t">0.05</text>
<path d="M442.7 256.9H449" stroke="#000" stroke-width="1.2"/>
<text transform="translate(434.5 256.9) rotate(-90)" text-anchor="middle" class="t">0.07</text>
<path d="M442.7 223.35H449" stroke="#000" stroke-width="1.2"/>
<text transform="translate(434.5 223.35) rotate(-90)" text-anchor="middle" class="t">0.09</text>
<path d="M442.7 189.8H449" stroke="#000" stroke-width="1.2"/>
<text transform="translate(434.5 189.8) rotate(-90)" text-anchor="middle" class="t">0.11</text>
<path d="M461.42 294.5V300.8" stroke="#000" stroke-width="1.2"/>
<text x="461.42" y="317.1" text-anchor="middle" class="t">5%</text>
<path d="M478.67 294.5V300.8" stroke="#000" stroke-width="1.2"/>
<path d="M495.91 294.5V300.8" stroke="#000" stroke-width="1.2"/>
<text x="495.91" y="317.1" text-anchor="middle" class="t">15%</text>
<path d="M513.16 294.5V300.8" stroke="#000" stroke-width="1.2"/>
<path d="M530.41 294.5V300.8" stroke="#000" stroke-width="1.2"/>
<text x="530.41" y="317.1" text-anchor="middle" class="t">25%</text>
<path d="M547.66 294.5V300.8" stroke="#000" stroke-width="1.2"/>
<path d="M564.91 294.5V300.8" stroke="#000" stroke-width="1.2"/>
<text x="564.91" y="317.1" text-anchor="middle" class="t">35%</text>
<path d="M582.15 294.5V300.8" stroke="#000" stroke-width="1.2"/>
<path d="M599.4 294.5V300.8" stroke="#000" stroke-width="1.2"/>
<text x="599.4" y="317.1" text-anchor="middle" class="t">45%</text>
<path d="M616.65 294.5V300.8" stroke="#000" stroke-width="1.2"/>
<path d="M633.9 294.5V300.8" stroke="#000" stroke-width="1.2"/>
<text x="633.9" y="317.1" text-anchor="middle" class="t">55%</text>
<path d="M651.15 294.5V300.8" stroke="#000" stroke-width="1.2"/>
<path d="M668.39 294.5V300.8" stroke="#000" stroke-width="1.2"/>
<text x="668.39" y="317.1" text-anchor="middle" class="t">65%</text>
<path d="M685.64 294.5V300.8" stroke="#000" stroke-width="1.2"/>
<path d="M702.89 294.5V300.8" stroke="#000" stroke-width="1.2"/>
<text x="702.89" y="317.1" text-anchor="middle" class="t">75%</text>
<path d="M720.14 294.5V300.8" stroke="#000" stroke-width="1.2"/>
<path d="M737.39 294.5V300.8" stroke="#000" stroke-width="1.2"/>
<text x="737.39" y="317.1" text-anchor="middle" class="t">85%</text>
<path d="M754.63 294.5V300.8" stroke="#000" stroke-width="1.2"/>
<path d="M771.88 294.5V300.8" stroke="#000" stroke-width="1.2"/>
<text x="771.88" y="317.1" text-anchor="middle" class="t">95%</text>
<text x="616.65" y="183.8" text-anchor="middle" class="m">NOAA</text>
<text x="616.65" y="342.1" text-anchor="middle" class="l">% Selected events</text>
<text transform="translate(409.2 240.2) rotate(-90)" text-anchor="middle" class="l">Quantification error</text>
<clipPath id="c20"><rect x="50.5" y="361.2" width="335.6" height="108.6"/></clipPath>
<g clip-path="url(#c20)">
<path d="M69.06 446.66L74.06 447.84M86.23 451.12L91.42 452.68M103.75 454.86L108.43 455.14M121 456.05L125.71 456.45M138.22 457.9L143.01 458.6M155.52 460.05L160.23 460.45M172.81 461.15L177.47 461.25M190.07 461.51L194.74 461.59M207.33 461.55L212 461.45M224.58 461.74L229.28 462.06M241.86 462.72L246.53 462.88M259.11 463.57L263.81 463.93M276.39 464.4L281.05 464.4M293.65 464.4L298.32 464.4M310.92 464.29L315.58 464.21M328.15 464.68L332.87 465.12M345.43 465.23L350.12 464.87M362.69 464.87L367.39 465.23" stroke="#FF3339" stroke-width="2.0" fill="none" stroke-linecap="round"/>
<path d="M62.93 441.55L66.09 447.03L59.76 447.03Z" fill="#FF3339"/>
<path d="M80.19 445.65L83.36 451.13L77.03 451.13Z" fill="#FF3339"/>
<path d="M97.46 450.85L100.62 456.33L94.29 456.33Z" fill="#FF3339"/>
<path d="M114.72 451.85L117.88 457.33L111.55 457.33Z" fill="#FF3339"/>
<path d="M131.98 453.35L135.15 458.83L128.82 458.83Z" fill="#FF3339"/>
<path d="M149.25 455.85L152.41 461.33L146.08 461.33Z" fill="#FF3339"/>
<path d="M166.51 457.35L169.67 462.83L163.34 462.83Z" fill="#FF3339"/>
<path d="M183.77 457.75L186.94 463.23L180.61 463.23Z" fill="#FF3339"/>
<path d="M201.04 458.05L204.2 463.53L197.87 463.53Z" fill="#FF3339"/>
<path d="M218.3 457.65L221.46 463.13L215.14 463.13Z" fill="#FF3339"/>
<path d="M235.56 458.85L238.73 464.33L232.4 464.33Z" fill="#FF3339"/>
<path d="M252.83 459.45L255.99 464.93L249.66 464.93Z" fill="#FF3339"/>
<path d="M270.09 460.75L273.26 466.23L266.93 466.23Z" fill="#FF3339"/>
<path d="M287.35 460.75L290.52 466.23L284.19 466.23Z" fill="#FF3339"/>
<path d="M304.62 460.75L307.78 466.23L301.45 466.23Z" fill="#FF3339"/>
<path d="M321.88 460.45L325.05 465.93L318.72 465.93Z" fill="#FF3339"/>
<path d="M339.14 462.05L342.31 467.53L335.98 467.53Z" fill="#FF3339"/>
<path d="M356.41 460.75L359.57 466.23L353.24 466.23Z" fill="#FF3339"/>
<path d="M373.67 462.05L376.84 467.53L370.51 467.53Z" fill="#FF3339"/>
<path d="M50.5 451.6H386.1" stroke="#1872C9" stroke-width="2.2"/>
<path d="M50.5 403.2H386.1" stroke="#B21E24" stroke-width="2.2"/>
<path d="M50.5 464.2H386.1" stroke="#000" stroke-width="2.2" stroke-dasharray="5.4 10.25" stroke-linecap="round"/>
<path d="M67.93 421.77L75.19 416.23M83.3 417.88L94.35 437.42M99.18 436.84L113 388.16M117.19 387.9L129.51 416.8M135.35 427.92L145.88 444.58M155.32 448.21L160.44 446.79M172.73 446.07L177.55 446.83M190.01 448.7L194.8 449.4M207.21 451.55L212.13 452.55M224.59 454.16L229.27 454.44M241.86 454.95L246.53 455.05M259.1 455.78L263.82 456.22M276.39 457.02L281.06 457.18M293.64 457.87L298.33 458.23M310.89 459.25L315.6 459.65M328.1 459.19L332.92 458.41M345.25 458.96L350.3 460.24M362.71 461.8L367.37 461.8" stroke="#3A8A70" stroke-width="2.0" fill="none" stroke-linecap="round"/>
<path d="M59.82 425.6H66.04M62.93 422.49V428.71M60.73 423.4L65.13 427.8M60.73 427.8L65.13 423.4" stroke="#3A8A70" stroke-width="2.0" fill="none" stroke-linecap="round"/>
<path d="M77.08 412.4H83.3M80.19 409.29V415.51M77.99 410.2L82.39 414.6M77.99 414.6L82.39 410.2" stroke="#3A8A70" stroke-width="2.0" fill="none" stroke-linecap="round"/>
<path d="M94.35 442.9H100.57M97.46 439.79V446.01M95.26 440.7L99.66 445.1M95.26 445.1L99.66 440.7" stroke="#3A8A70" stroke-width="2.0" fill="none" stroke-linecap="round"/>
<path d="M111.61 382.1H117.83M114.72 378.99V385.21M112.52 379.9L116.92 384.3M112.52 384.3L116.92 379.9" stroke="#3A8A70" stroke-width="2.0" fill="none" stroke-linecap="round"/>
<path d="M128.87 422.6H135.09M131.98 419.49V425.71M129.78 420.4L134.18 424.8M129.78 424.8L134.18 420.4" stroke="#3A8A70" stroke-width="2.0" fill="none" stroke-linecap="round"/>
<path d="M146.14 449.9H152.36M149.25 446.79V453.01M147.05 447.7L151.45 452.1M147.05 452.1L151.45 447.7" stroke="#3A8A70" stroke-width="2.0" fill="none" stroke-linecap="round"/>
<path d="M163.4 445.1H169.62M166.51 441.99V448.21M164.31 442.9L168.71 447.3M164.31 447.3L168.71 442.9" stroke="#3A8A70" stroke-width="2.0" fill="none" stroke-linecap="round"/>
<path d="M180.66 447.8H186.88M183.77 444.69V450.91M181.57 445.6L185.97 450M181.57 450L185.97 445.6" stroke="#3A8A70" stroke-width="2.0" fill="none" stroke-linecap="round"/>
<path d="M197.93 450.3H204.15M201.04 447.19V453.41M198.84 448.1L203.24 452.5M198.84 452.5L203.24 448.1" stroke="#3A8A70" stroke-width="2.0" fill="none" stroke-linecap="round"/>
<path d="M215.19 453.8H221.41M218.3 450.69V456.91M216.1 451.6L220.5 456M216.1 456L220.5 451.6" stroke="#3A8A70" stroke-width="2.0" fill="none" stroke-linecap="round"/>
<path d="M232.45 454.8H238.67M235.56 451.69V457.91M233.36 452.6L237.76 457M233.36 457L237.76 452.6" stroke="#3A8A70" stroke-width="2.0" fill="none" stroke-linecap="round"/>
<path d="M249.72 455.2H255.94M252.83 452.09V458.31M250.63 453L255.03 457.4M250.63 457.4L255.03 453" stroke="#3A8A70" stroke-width="2.0" fill="none" stroke-linecap="round"/>
<path d="M266.98 456.8H273.2M270.09 453.69V459.91M267.89 454.6L272.29 459M267.89 459L272.29 454.6" stroke="#3A8A70" stroke-width="2.0" fill="none" stroke-linecap="round"/>
<path d="M284.24 457.4H290.46M287.35 454.29V460.51M285.15 455.2L289.55 459.6M285.15 459.6L289.55 455.2" stroke="#3A8A70" stroke-width="2.0" fill="none" stroke-linecap="round"/>
<path d="M301.51 458.7H307.73M304.62 455.59V461.81M302.42 456.5L306.82 460.9M302.42 460.9L306.82 456.5" stroke="#3A8A70" stroke-width="2.0" fill="none" stroke-linecap="round"/>
<path d="M318.77 460.2H324.99M321.88 457.09V463.31M319.68 458L324.08 462.4M319.68 462.4L324.08 458" stroke="#3A8A70" stroke-width="2.0" fill="none" stroke-linecap="round"/>
<path d="M336.03 457.4H342.25M339.14 454.29V460.51M336.94 455.2L341.34 459.6M336.94 459.6L341.34 455.2" stroke="#3A8A70" stroke-width="2.0" fill="none" stroke-linecap="round"/>
<path d="M353.3 461.8H359.52M356.41 458.69V464.91M354.21 459.6L358.61 464M354.21 464L358.61 459.6" stroke="#3A8A70" stroke-width="2.0" fill="none" stroke-linecap="round"/>
<path d="M370.56 461.8H376.78M373.67 458.69V464.91M371.47 459.6L375.87 464M371.47 464L375.87 459.6" stroke="#3A8A70" stroke-width="2.0" fill="none" stroke-linecap="round"/>
<path d="M68.95 449.85L74.17 451.45M86.48 453.7L91.17 454M103.76 454.51L108.42 454.59M121.02 454.66L125.68 454.64M138.28 454.75L142.95 454.85M155.53 455.47L160.23 455.83M172.81 456.3L177.47 456.3M190.06 456.63L194.75 456.87M207.29 458L212.05 458.6M224.59 459.69L229.27 459.91M241.86 460.2L246.53 460.2M259.13 460.35L263.79 460.45M276.38 460.96L281.06 461.24M293.65 461.6L298.32 461.6M310.92 461.67L315.58 461.73M328.17 461.36L332.86 461.04M345.38 461.5L350.17 462.2M362.7 463.36L367.38 463.54" stroke="#DDA11A" stroke-width="2.0" fill="none" stroke-linecap="round"/>
<rect x="60.42" y="445.49" width="5.02" height="5.02" fill="#DDA11A"/>
<rect x="77.69" y="450.79" width="5.02" height="5.02" fill="#DDA11A"/>
<rect x="94.95" y="451.89" width="5.02" height="5.02" fill="#DDA11A"/>
<rect x="112.21" y="452.19" width="5.02" height="5.02" fill="#DDA11A"/>
<rect x="129.48" y="452.09" width="5.02" height="5.02" fill="#DDA11A"/>
<rect x="146.74" y="452.49" width="5.02" height="5.02" fill="#DDA11A"/>
<rect x="164" y="453.79" width="5.02" height="5.02" fill="#DDA11A"/>
<rect x="181.27" y="453.79" width="5.02" height="5.02" fill="#DDA11A"/>
<rect x="198.53" y="454.69" width="5.02" height="5.02" fill="#DDA11A"/>
<rect x="215.79" y="456.89" width="5.02" height="5.02" fill="#DDA11A"/>
<rect x="233.06" y="457.69" width="5.02" height="5.02" fill="#DDA11A"/>
<rect x="250.32" y="457.69" width="5.02" height="5.02" fill="#DDA11A"/>
<rect x="267.58" y="458.09" width="5.02" height="5.02" fill="#DDA11A"/>
<rect x="284.85" y="459.09" width="5.02" height="5.02" fill="#DDA11A"/>
<rect x="302.11" y="459.09" width="5.02" height="5.02" fill="#DDA11A"/>
<rect x="319.37" y="459.29" width="5.02" height="5.02" fill="#DDA11A"/>
<rect x="336.64" y="458.09" width="5.02" height="5.02" fill="#DDA11A"/>
<rect x="353.9" y="460.59" width="5.02" height="5.02" fill="#DDA11A"/>
<rect x="371.16" y="461.29" width="5.02" height="5.02" fill="#DDA11A"/>
</g>
<rect x="50.5" y="361.2" width="335.6" height="108.6" fill="none" stroke="#000" stroke-width="1.2"/>
<path d="M44.2 465.5H50.5" stroke="#000" stroke-width="1.2"/>
<text transform="translate(36 465.5) rotate(-90)" text-anchor="middle" class="t">0.01</text>
<path d="M44.2 430.66H50.5" stroke="#000" stroke-width="1.2"/>
<text transform="translate(36 430.66) rotate(-90)" text-anchor="middle" class="t">0.10</text>
<path d="M44.2 399.69H50.5" stroke="#000" stroke-width="1.2"/>
<text transform="translate(36 399.69) rotate(-90)" text-anchor="middle" class="t">0.18</text>
<path d="M44.2 364.85H50.5" stroke="#000" stroke-width="1.2"/>
<text transform="translate(36 364.85) rotate(-90)" text-anchor="middle" class="t">0.27</text>
<path d="M62.93 469.8V476.1" stroke="#000" stroke-width="1.2"/>
<text x="62.93" y="492.4" text-anchor="middle" class="t">5%</text>
<path d="M80.19 469.8V476.1" stroke="#000" stroke-width="1.2"/>
<path d="M97.46 469.8V476.1" stroke="#000" stroke-width="1.2"/>
<text x="97.46" y="492.4" text-anchor="middle" class="t">15%</text>
<path d="M114.72 469.8V476.1" stroke="#000" stroke-width="1.2"/>
<path d="M131.98 469.8V476.1" stroke="#000" stroke-width="1.2"/>
<text x="131.98" y="492.4" text-anchor="middle" class="t">25%</text>
<path d="M149.25 469.8V476.1" stroke="#000" stroke-width="1.2"/>
<path d="M166.51 469.8V476.1" stroke="#000" stroke-width="1.2"/>
<text x="166.51" y="492.4" text-anchor="middle" class="t">35%</text>
<path d="M183.77 469.8V476.1" stroke="#000" stroke-width="1.2"/>
<path d="M201.04 469.8V476.1" stroke="#000" stroke-width="1.2"/>
<text x="201.04" y="492.4" text-anchor="middle" class="t">45%</text>
<path d="M218.3 469.8V476.1" stroke="#000" stroke-width="1.2"/>
<path d="M235.56 469.8V476.1" stroke="#000" stroke-width="1.2"/>
<text x="235.56" y="492.4" text-anchor="middle" class="t">55%</text>
<path d="M252.83 469.8V476.1" stroke="#000" stroke-width="1.2"/>
<path d="M270.09 469.8V476.1" stroke="#000" stroke-width="1.2"/>
<text x="270.09" y="492.4" text-anchor="middle" class="t">65%</text>
<path d="M287.35 469.8V476.1" stroke="#000" stroke-width="1.2"/>
<path d="M304.62 469.8V476.1" stroke="#000" stroke-width="1.2"/>
<text x="304.62" y="492.4" text-anchor="middle" class="t">75%</text>
<path d="M321.88 469.8V476.1" stroke="#000" stroke-width="1.2"/>
<path d="M339.14 469.8V476.1" stroke="#000" stroke-width="1.2"/>
<text x="339.14" y="492.4" text-anchor="middle" class="t">85%</text>
<path d="M356.41 469.8V476.1" stroke="#000" stroke-width="1.2"/>
<path d="M373.67 469.8V476.1" stroke="#000" stroke-width="1.2"/>
<text x="373.67" y="492.4" text-anchor="middle" class="t">95%</text>
<text x="218.3" y="359.1" text-anchor="middle" class="m">Arabic−Digit</text>
<text x="218.3" y="517.4" text-anchor="middle" class="l">% Selected events</text>
<text transform="translate(10.7 415.5) rotate(-90)" text-anchor="middle" class="l">Quantification error</text>
<clipPath id="c21"><rect x="449" y="361.2" width="335.3" height="108.6"/></clipPath>
<g clip-path="url(#c21)">
<path d="M466.58 385.72L473.51 390.58M484.79 395.69L489.79 396.91M501.14 401.92L507.93 406.48M519.46 409.74L524.12 409.56M536.39 411.28L541.68 413.02M553.85 416.18L558.72 417.12M571.2 418.56L575.86 418.74M587.99 421.37L593.56 423.63M605.23 428.4L610.82 430.7M622.93 433.57L627.62 433.93M640.18 434.87L644.86 435.23M657.41 436.39L662.13 436.91M674.38 439.58L679.66 441.32M691.91 443.92L696.62 444.38M709.11 446.01L713.92 446.79M726.42 448.24L731.1 448.56M743.69 449L748.33 449M760.88 449.8L765.63 450.4" stroke="#FF3339" stroke-width="2.0" fill="none" stroke-linecap="round"/>
<path d="M461.42 378.45L464.58 383.93L458.25 383.93Z" fill="#FF3339"/>
<path d="M478.67 390.55L481.83 396.03L475.5 396.03Z" fill="#FF3339"/>
<path d="M495.91 394.75L499.08 400.23L492.75 400.23Z" fill="#FF3339"/>
<path d="M513.16 406.35L516.33 411.83L510 411.83Z" fill="#FF3339"/>
<path d="M530.41 405.65L533.58 411.13L527.25 411.13Z" fill="#FF3339"/>
<path d="M547.66 411.35L550.82 416.83L544.49 416.83Z" fill="#FF3339"/>
<path d="M564.91 414.65L568.07 420.13L561.74 420.13Z" fill="#FF3339"/>
<path d="M582.15 415.35L585.32 420.83L578.99 420.83Z" fill="#FF3339"/>
<path d="M599.4 422.35L602.57 427.83L596.24 427.83Z" fill="#FF3339"/>
<path d="M616.65 429.45L619.81 434.93L613.49 434.93Z" fill="#FF3339"/>
<path d="M633.9 430.75L637.06 436.23L630.73 436.23Z" fill="#FF3339"/>
<path d="M651.15 432.05L654.31 437.53L647.98 437.53Z" fill="#FF3339"/>
<path d="M668.39 433.95L671.56 439.43L665.23 439.43Z" fill="#FF3339"/>
<path d="M685.64 439.65L688.81 445.13L682.48 445.13Z" fill="#FF3339"/>
<path d="M702.89 441.35L706.05 446.83L699.72 446.83Z" fill="#FF3339"/>
<path d="M720.14 444.15L723.3 449.63L716.97 449.63Z" fill="#FF3339"/>
<path d="M737.39 445.35L740.55 450.83L734.22 450.83Z" fill="#FF3339"/>
<path d="M754.63 445.35L757.8 450.83L751.47 450.83Z" fill="#FF3339"/>
<path d="M771.88 447.55L775.05 453.03L768.72 453.03Z" fill="#FF3339"/>
<path d="M449 463.8H784.3" stroke="#1872C9" stroke-width="2.2"/>
<path d="M449 437.6H784.3" stroke="#B21E24" stroke-width="2.2"/>
<path d="M449 458.9H784.3" stroke="#000" stroke-width="2.2" stroke-dasharray="5.4 10.25" stroke-linecap="round"/>
<path d="M466.66 391.69L473.42 396.21M484.9 400.6L489.68 401.3M502.02 403.76L507.06 405.04M519.27 408.16L524.31 409.44M536.56 412.39L541.51 413.51M553.86 416.01L558.71 416.89M571.11 419.08L575.95 419.92M588.19 422.82L593.37 424.38M605.69 425.8L610.36 425.5M622.52 427.38L628.03 429.52M640.17 432.42L644.88 432.88M657.4 434.3L662.14 434.9M674.16 438.24L679.88 440.76M691.66 445.15L696.87 446.75M708.85 450.64L714.18 452.46M726.3 455.79L731.22 456.81M743.62 459L748.4 459.7M760.77 462.02L765.74 463.18" stroke="#3A8A70" stroke-width="2.0" fill="none" stroke-linecap="round"/>
<path d="M458.31 388.2H464.53M461.42 385.09V391.31M459.22 386L463.62 390.4M459.22 390.4L463.62 386" stroke="#3A8A70" stroke-width="2.0" fill="none" stroke-linecap="round"/>
<path d="M475.56 399.7H481.78M478.67 396.59V402.81M476.47 397.5L480.87 401.9M476.47 401.9L480.87 397.5" stroke="#3A8A70" stroke-width="2.0" fill="none" stroke-linecap="round"/>
<path d="M492.8 402.2H499.03M495.91 399.09V405.31M493.71 400L498.11 404.4M493.71 404.4L498.11 400" stroke="#3A8A70" stroke-width="2.0" fill="none" stroke-linecap="round"/>
<path d="M510.05 406.6H516.27M513.16 403.49V409.71M510.96 404.4L515.36 408.8M510.96 408.8L515.36 404.4" stroke="#3A8A70" stroke-width="2.0" fill="none" stroke-linecap="round"/>
<path d="M527.3 411H533.52M530.41 407.89V414.11M528.21 408.8L532.61 413.2M528.21 413.2L532.61 408.8" stroke="#3A8A70" stroke-width="2.0" fill="none" stroke-linecap="round"/>
<path d="M544.55 414.9H550.77M547.66 411.79V418.01M545.46 412.7L549.86 417.1M545.46 417.1L549.86 412.7" stroke="#3A8A70" stroke-width="2.0" fill="none" stroke-linecap="round"/>
<path d="M561.79 418H568.02M564.91 414.89V421.11M562.71 415.8L567.11 420.2M562.71 420.2L567.11 415.8" stroke="#3A8A70" stroke-width="2.0" fill="none" stroke-linecap="round"/>
<path d="M579.04 421H585.27M582.15 417.89V424.11M579.95 418.8L584.35 423.2M579.95 423.2L584.35 418.8" stroke="#3A8A70" stroke-width="2.0" fill="none" stroke-linecap="round"/>
<path d="M596.29 426.2H602.51M599.4 423.09V429.31M597.2 424L601.6 428.4M597.2 428.4L601.6 424" stroke="#3A8A70" stroke-width="2.0" fill="none" stroke-linecap="round"/>
<path d="M613.54 425.1H619.76M616.65 421.99V428.21M614.45 422.9L618.85 427.3M614.45 427.3L618.85 422.9" stroke="#3A8A70" stroke-width="2.0" fill="none" stroke-linecap="round"/>
<path d="M630.79 431.8H637.01M633.9 428.69V434.91M631.7 429.6L636.1 434M631.7 434L636.1 429.6" stroke="#3A8A70" stroke-width="2.0" fill="none" stroke-linecap="round"/>
<path d="M648.03 433.5H654.26M651.15 430.39V436.61M648.95 431.3L653.35 435.7M648.95 435.7L653.35 431.3" stroke="#3A8A70" stroke-width="2.0" fill="none" stroke-linecap="round"/>
<path d="M665.28 435.7H671.51M668.39 432.59V438.81M666.19 433.5L670.59 437.9M666.19 437.9L670.59 433.5" stroke="#3A8A70" stroke-width="2.0" fill="none" stroke-linecap="round"/>
<path d="M682.53 443.3H688.75M685.64 440.19V446.41M683.44 441.1L687.84 445.5M683.44 445.5L687.84 441.1" stroke="#3A8A70" stroke-width="2.0" fill="none" stroke-linecap="round"/>
<path d="M699.78 448.6H706M702.89 445.49V451.71M700.69 446.4L705.09 450.8M700.69 450.8L705.09 446.4" stroke="#3A8A70" stroke-width="2.0" fill="none" stroke-linecap="round"/>
<path d="M717.03 454.5H723.25M720.14 451.39V457.61M717.94 452.3L722.34 456.7M717.94 456.7L722.34 452.3" stroke="#3A8A70" stroke-width="2.0" fill="none" stroke-linecap="round"/>
<path d="M734.27 458.1H740.5M737.39 454.99V461.21M735.19 455.9L739.59 460.3M735.19 460.3L739.59 455.9" stroke="#3A8A70" stroke-width="2.0" fill="none" stroke-linecap="round"/>
<path d="M751.52 460.6H757.74M754.63 457.49V463.71M752.43 458.4L756.83 462.8M752.43 462.8L756.83 458.4" stroke="#3A8A70" stroke-width="2.0" fill="none" stroke-linecap="round"/>
<path d="M768.77 464.6H774.99M771.88 461.49V467.71M769.68 462.4L774.08 466.8M769.68 466.8L774.08 462.4" stroke="#3A8A70" stroke-width="2.0" fill="none" stroke-linecap="round"/>
<path d="M467.06 403.11L473.03 406.09M484.91 408.07L489.67 407.43M501.98 408.29L507.09 409.71M519.39 412.34L524.18 413.06M536.13 416.65L541.94 419.35M553.95 422.33L558.61 422.57M571.08 424.15L575.98 425.15M588.03 428.68L593.53 430.82M605.44 431.31L610.61 429.79M622.4 430.57L628.15 433.13M640 437.26L645.04 438.54M657.43 440.57L662.11 440.93M674.51 442.89L679.52 444.11M691.81 446.89L696.72 447.91M709.08 450.35L713.94 451.25M726.41 453.02L731.12 453.48M743.67 454.57L748.35 454.93M760.9 456.09L765.62 456.61" stroke="#DDA11A" stroke-width="2.0" fill="none" stroke-linecap="round"/>
<rect x="458.91" y="397.79" width="5.02" height="5.02" fill="#DDA11A"/>
<rect x="476.16" y="406.39" width="5.02" height="5.02" fill="#DDA11A"/>
<rect x="493.41" y="404.09" width="5.02" height="5.02" fill="#DDA11A"/>
<rect x="510.65" y="408.89" width="5.02" height="5.02" fill="#DDA11A"/>
<rect x="527.9" y="411.49" width="5.02" height="5.02" fill="#DDA11A"/>
<rect x="545.15" y="419.49" width="5.02" height="5.02" fill="#DDA11A"/>
<rect x="562.4" y="420.39" width="5.02" height="5.02" fill="#DDA11A"/>
<rect x="579.65" y="423.89" width="5.02" height="5.02" fill="#DDA11A"/>
<rect x="596.89" y="430.59" width="5.02" height="5.02" fill="#DDA11A"/>
<rect x="614.14" y="425.49" width="5.02" height="5.02" fill="#DDA11A"/>
<rect x="631.39" y="433.19" width="5.02" height="5.02" fill="#DDA11A"/>
<rect x="648.64" y="437.59" width="5.02" height="5.02" fill="#DDA11A"/>
<rect x="665.89" y="438.89" width="5.02" height="5.02" fill="#DDA11A"/>
<rect x="683.13" y="443.09" width="5.02" height="5.02" fill="#DDA11A"/>
<rect x="700.38" y="446.69" width="5.02" height="5.02" fill="#DDA11A"/>
<rect x="717.63" y="449.89" width="5.02" height="5.02" fill="#DDA11A"/>
<rect x="734.88" y="451.59" width="5.02" height="5.02" fill="#DDA11A"/>
<rect x="752.13" y="452.89" width="5.02" height="5.02" fill="#DDA11A"/>
<rect x="769.37" y="454.79" width="5.02" height="5.02" fill="#DDA11A"/>
</g>
<rect x="449" y="361.2" width="335.3" height="108.6" fill="none" stroke="#000" stroke-width="1.2"/>
<path d="M442.7 465.5H449" stroke="#000" stroke-width="1.2"/>
<text transform="translate(434.5 465.5) rotate(-90)" text-anchor="middle" class="t">0.01</text>
<path d="M442.7 430.49H449" stroke="#000" stroke-width="1.2"/>
<text transform="translate(434.5 430.49) rotate(-90)" text-anchor="middle" class="t">0.17</text>
<path d="M442.7 397.67H449" stroke="#000" stroke-width="1.2"/>
<text transform="translate(434.5 397.67) rotate(-90)" text-anchor="middle" class="t">0.32</text>
<path d="M442.7 364.85H449" stroke="#000" stroke-width="1.2"/>
<text transform="translate(434.5 364.85) rotate(-90)" text-anchor="middle" class="t">0.47</text>
<path d="M461.42 469.8V476.1" stroke="#000" stroke-width="1.2"/>
<text x="461.42" y="492.4" text-anchor="middle" class="t">5%</text>
<path d="M478.67 469.8V476.1" stroke="#000" stroke-width="1.2"/>
<path d="M495.91 469.8V476.1" stroke="#000" stroke-width="1.2"/>
<text x="495.91" y="492.4" text-anchor="middle" class="t">15%</text>
<path d="M513.16 469.8V476.1" stroke="#000" stroke-width="1.2"/>
<path d="M530.41 469.8V476.1" stroke="#000" stroke-width="1.2"/>
<text x="530.41" y="492.4" text-anchor="middle" class="t">25%</text>
<path d="M547.66 469.8V476.1" stroke="#000" stroke-width="1.2"/>
<path d="M564.91 469.8V476.1" stroke="#000" stroke-width="1.2"/>
<text x="564.91" y="492.4" text-anchor="middle" class="t">35%</text>
<path d="M582.15 469.8V476.1" stroke="#000" stroke-width="1.2"/>
<path d="M599.4 469.8V476.1" stroke="#000" stroke-width="1.2"/>
<text x="599.4" y="492.4" text-anchor="middle" class="t">45%</text>
<path d="M616.65 469.8V476.1" stroke="#000" stroke-width="1.2"/>
<path d="M633.9 469.8V476.1" stroke="#000" stroke-width="1.2"/>
<text x="633.9" y="492.4" text-anchor="middle" class="t">55%</text>
<path d="M651.15 469.8V476.1" stroke="#000" stroke-width="1.2"/>
<path d="M668.39 469.8V476.1" stroke="#000" stroke-width="1.2"/>
<text x="668.39" y="492.4" text-anchor="middle" class="t">65%</text>
<path d="M685.64 469.8V476.1" stroke="#000" stroke-width="1.2"/>
<path d="M702.89 469.8V476.1" stroke="#000" stroke-width="1.2"/>
<text x="702.89" y="492.4" text-anchor="middle" class="t">75%</text>
<path d="M720.14 469.8V476.1" stroke="#000" stroke-width="1.2"/>
<path d="M737.39 469.8V476.1" stroke="#000" stroke-width="1.2"/>
<text x="737.39" y="492.4" text-anchor="middle" class="t">85%</text>
<path d="M754.63 469.8V476.1" stroke="#000" stroke-width="1.2"/>
<path d="M771.88 469.8V476.1" stroke="#000" stroke-width="1.2"/>
<text x="771.88" y="492.4" text-anchor="middle" class="t">95%</text>
<text x="616.65" y="359.1" text-anchor="middle" class="m">QG</text>
<text x="616.65" y="517.4" text-anchor="middle" class="l">% Selected events</text>
<text transform="translate(409.2 415.5) rotate(-90)" text-anchor="middle" class="l">Quantification error</text>
<rect x="94.7" y="530.7" width="642.3" height="41.6" fill="none" stroke="#000" stroke-width="1.2"/>
<path d="M101.8 540.3H115.4" stroke="#1872C9" stroke-width="2.2"/>
<path d="M101.8 563.9H115.4" stroke="#B21E24" stroke-width="2.2"/>
<path d="M343.3 540.3H350.9" stroke="#000" stroke-width="2.2"/>
<path d="M343.3 563.9H357.1" stroke="#FF3339" stroke-width="2.0"/>
<path d="M350.2 559.55L353.97 566.08L346.43 566.08Z" fill="#FF3339"/>
<path d="M585.1 540.3H598.9" stroke="#3A8A70" stroke-width="2.0"/>
<path d="M588.11 540.3H595.89M592 536.41V544.19M589.25 537.55L594.75 543.05M589.25 543.05L594.75 537.55" stroke="#3A8A70" stroke-width="2.2" fill="none" stroke-linecap="round"/>
<path d="M585.1 563.9H598.9" stroke="#DDA11A" stroke-width="2.0"/>
<rect x="588.69" y="560.59" width="6.61" height="6.61" fill="#DDA11A"/>
<text x="117.4" y="544.7" class="g">Sliding</text>
<text x="117.4" y="567.9" class="g">Static</text>
<text x="359.3" y="544.7" class="g">SQSI</text>
<text x="359.3" y="567.9" class="g">SQSI−IS+K−Means</text>
<text x="601.1" y="544.7" class="g">SQSI−IS+Farthest−First</text>
<text x="601.1" y="567.9" class="g">SQSI−IS+Random</text>
</svg>
</body></html>
